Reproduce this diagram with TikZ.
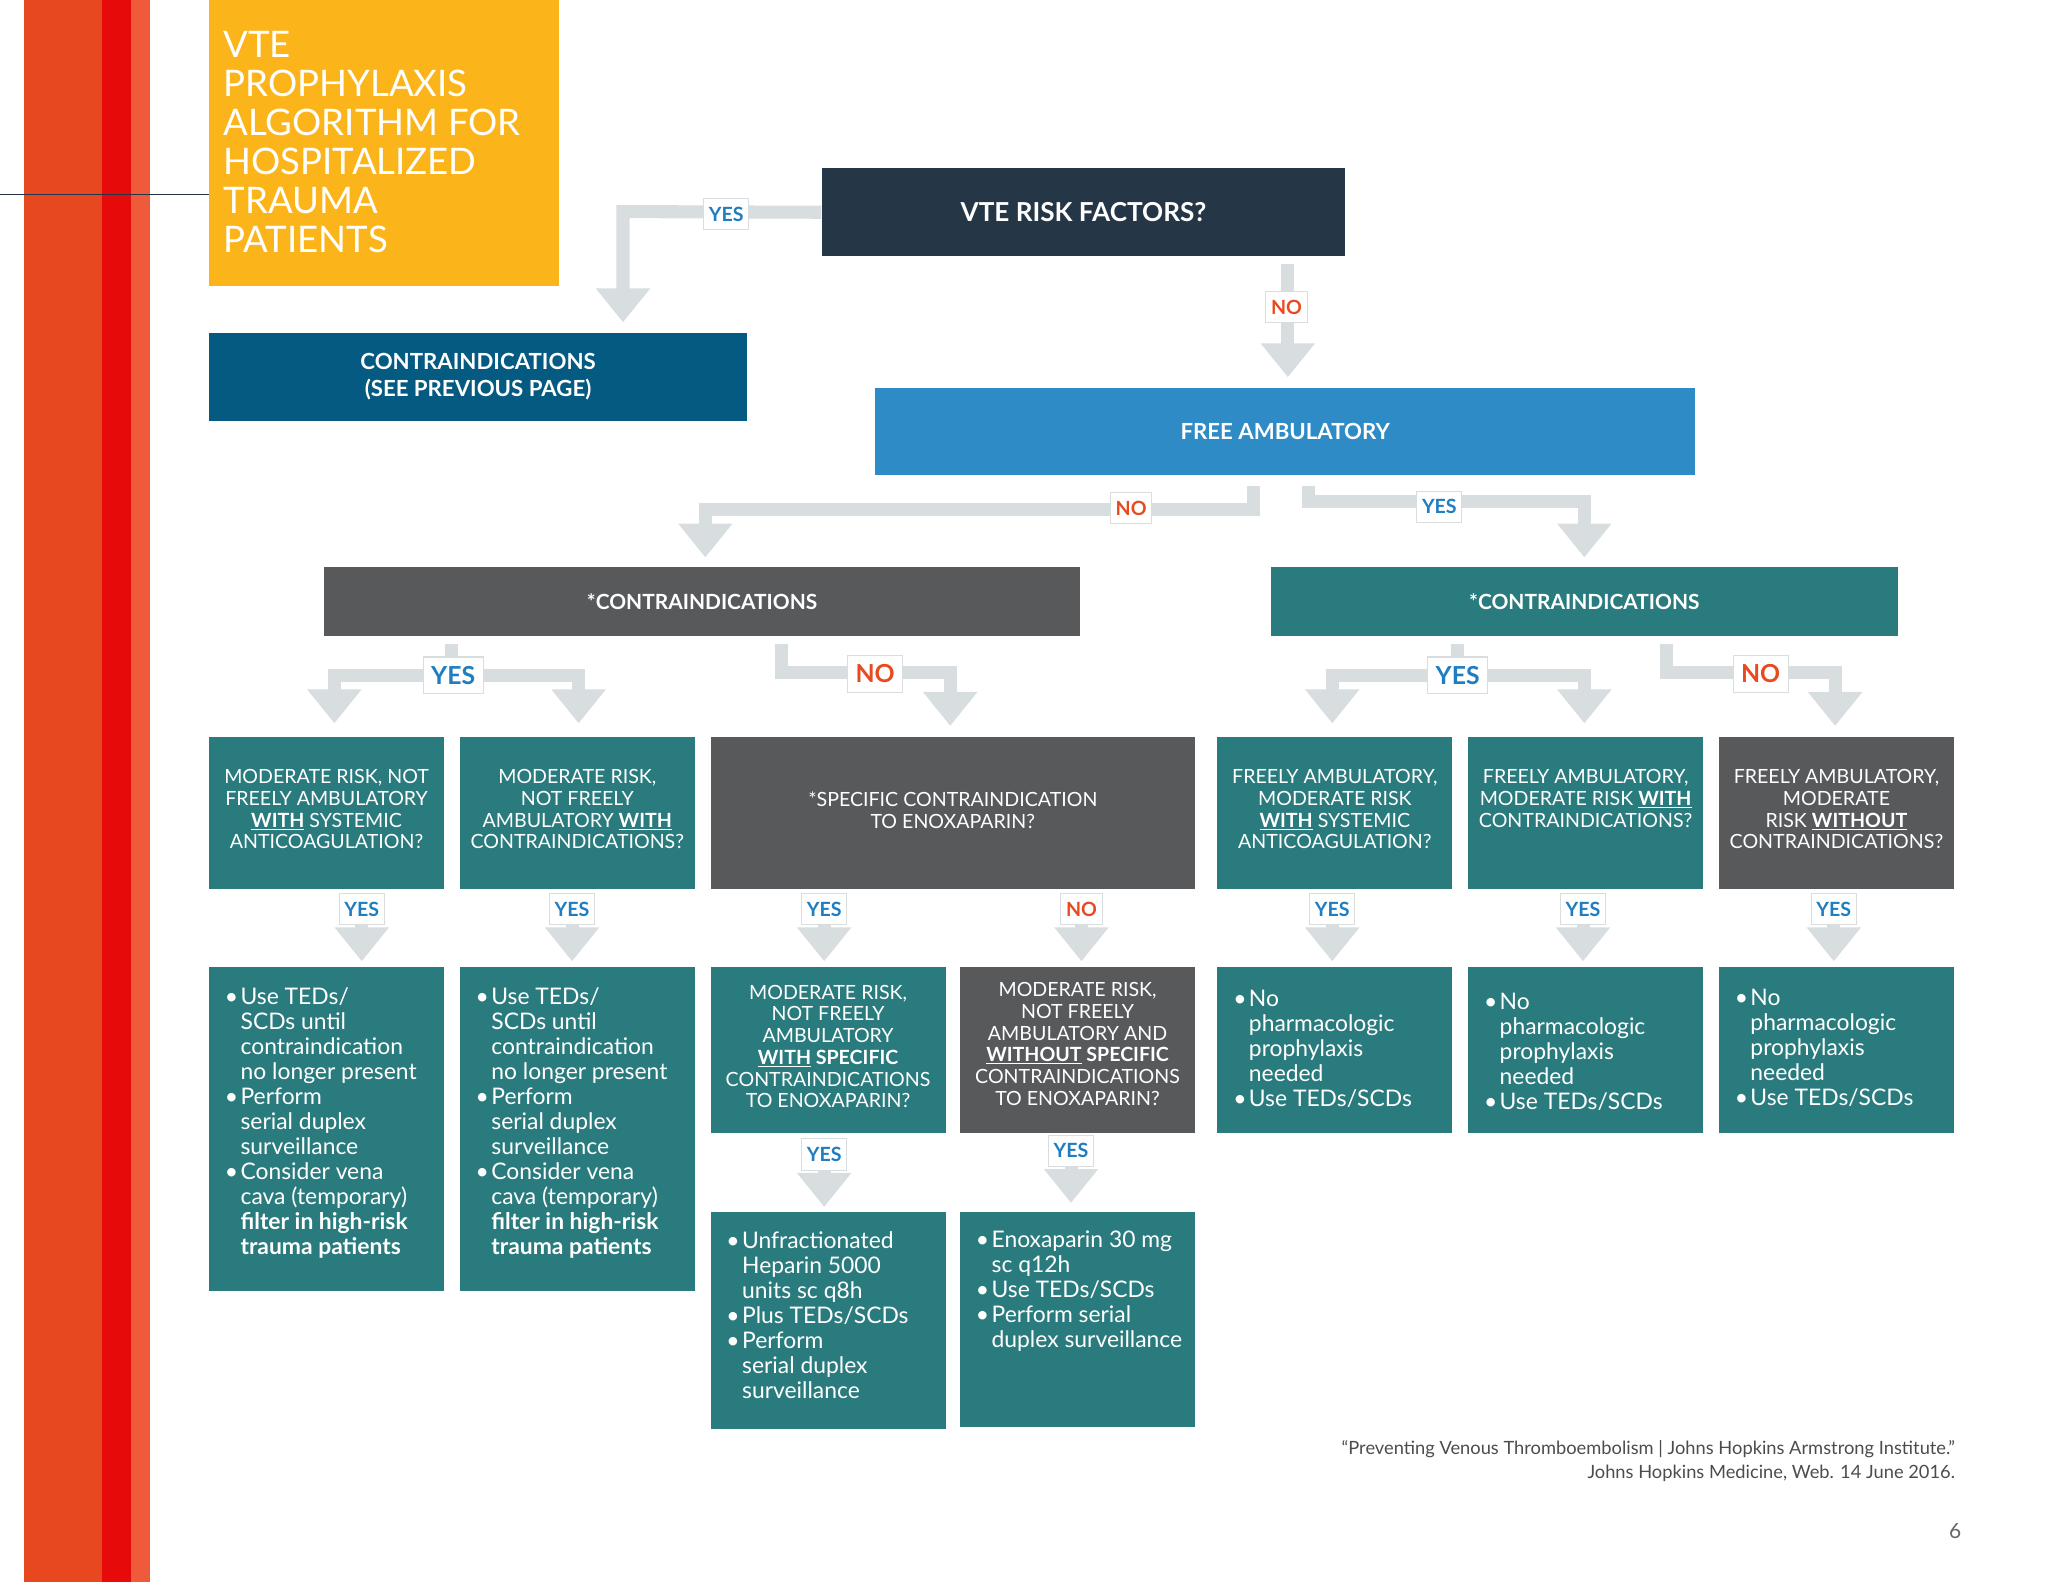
\documentclass[tikz,border=0pt]{standalone}
\usepackage{fontspec}
\setmainfont{Lato}
\usetikzlibrary{arrows.meta}
\definecolor{teal}{HTML}{2A7B7E}
\definecolor{dgray}{HTML}{58595B}
\definecolor{navy}{HTML}{253746}
\definecolor{dblue}{HTML}{055A82}
\definecolor{mblue}{HTML}{2E8BC6}
\definecolor{yel}{HTML}{FBB41A}
\definecolor{agray}{HTML}{D8DDDF}
\definecolor{yesc}{HTML}{1F7DC1}
\definecolor{noc}{HTML}{E84A1F}
\definecolor{s1}{HTML}{E8481F}
\definecolor{s2}{HTML}{E60A0A}
\definecolor{s3}{HTML}{EE5A3A}
\newcommand{\bi}[1]{\makebox[12pt][l]{\textbullet}\parbox[t]{150pt}{\raggedright #1\rule[-5pt]{0pt}{5pt}}}
\begin{document}
\begin{tikzpicture}[x=1pt,y=1pt,
  box/.style={rectangle,inner sep=0pt,text=white,align=center},
  qt/.style={text=white,align=center,inner sep=0pt,font=\fontsize{15}{16.6}\selectfont,anchor=north},
  bl/.style={text=white,align=left,inner sep=0pt,font=\fontsize{17.5}{19.2}\selectfont,anchor=north west},
  conn/.style={draw=agray,line width=10pt,-{Triangle[width=40pt,length=26pt]}},
  seg/.style={draw=agray,line width=10pt},
  lab/.style={fill=white,draw=agray,line width=0.8pt,inner xsep=4pt,inner ysep=3pt,font=\bfseries\fontsize{15}{15}\selectfont,minimum height=24pt},
  labL/.style={lab,font=\bfseries\fontsize{19}{19}\selectfont,minimum height=28pt,inner xsep=6pt}]
\useasboundingbox (0,0) rectangle (1568,-1211);
% stripes
\fill[s1] (18,0) rectangle (78,-1211);
\fill[s2] (78,0) rectangle (100,-1211);
\fill[s3] (100,0) rectangle (115,-1211);
\draw[navy,line width=0.8pt] (0,-149) -- (160,-149);
% title
\node[box,fill=yel,minimum width=268pt,minimum height=219pt,anchor=north west] (title) at (160,0) {};
\node[text=white,align=left,inner sep=0pt,anchor=north west,font=\fontsize{28}{29.8}\selectfont] (ttext) at (171,-24)
 {VTE\\PROPHYLAXIS\\ALGORITHM FOR\\HOSPITALIZED\\TRAUMA\\PATIENTS};
% main boxes
\node[box,fill=navy,minimum width=401pt,minimum height=67pt,font=\bfseries\fontsize{20}{22}\selectfont] (vte) at (829.5,-162.5) {VTE RISK FACTORS?};
\node[box,fill=dblue,minimum width=412pt,minimum height=67pt,font=\bfseries\fontsize{17}{21}\selectfont] (cprev) at (366,-288.5) {CONTRAINDICATIONS\\(SEE PREVIOUS PAGE)};
\node[box,fill=mblue,minimum width=628pt,minimum height=67pt,font=\bfseries\fontsize{17}{21}\selectfont] (fa) at (984,-330.5) {FREE AMBULATORY};
\node[box,fill=dgray,minimum width=579pt,minimum height=53pt,font=\bfseries\fontsize{16}{20}\selectfont] (c1) at (537.5,-460.5) {*CONTRAINDICATIONS};
\node[box,fill=teal,minimum width=480pt,minimum height=53pt,font=\bfseries\fontsize{16}{20}\selectfont] (c2) at (1213,-460.5) {*CONTRAINDICATIONS};
% row 3
\node[box,fill=teal,minimum width=180pt,minimum height=117pt] (b1) at (250,-622.5) {};
\node[box,fill=teal,minimum width=180pt,minimum height=117pt] (b2) at (442,-622.5) {};
\node[box,fill=dgray,minimum width=371pt,minimum height=117pt] (b3) at (729.5,-622.5) {};
\node[box,fill=teal,minimum width=180pt,minimum height=117pt] (b4) at (1022,-622.5) {};
\node[box,fill=teal,minimum width=180pt,minimum height=117pt] (b5) at (1214,-622.5) {};
\node[box,fill=dgray,minimum width=180pt,minimum height=117pt] (b6) at (1406,-622.5) {};
\node[qt] (t1) at (250,-589) {MODERATE RISK, NOT\\FREELY AMBULATORY\\\textbf{\underline{WITH}} SYSTEMIC\\ANTICOAGULATION?};
\node[qt] (t2) at (442,-589) {MODERATE RISK,\\NOT FREELY\\AMBULATORY \textbf{\underline{WITH}}\\CONTRAINDICATIONS?};
\node[qt] (t3) at (729.5,-606) {*SPECIFIC CONTRAINDICATION\\TO ENOXAPARIN?};
\node[qt] (t4) at (1022,-589) {FREELY AMBULATORY,\\MODERATE RISK\\\textbf{\underline{WITH}} SYSTEMIC\\ANTICOAGULATION?};
\node[qt] (t5) at (1214,-589) {FREELY AMBULATORY,\\MODERATE RISK \textbf{\underline{WITH}}\\CONTRAINDICATIONS?};
\node[qt] (t6) at (1406,-589) {FREELY AMBULATORY,\\MODERATE\\RISK \textbf{\underline{WITHOUT}}\\CONTRAINDICATIONS?};
% row 4
\node[box,fill=teal,minimum width=180pt,minimum height=248pt,anchor=north] (d1) at (250,-740) {};
\node[box,fill=teal,minimum width=180pt,minimum height=248pt,anchor=north] (d2) at (442,-740) {};
\node[box,fill=teal,minimum width=180pt,minimum height=127pt,anchor=north] (d3) at (634,-740) {};
\node[box,fill=dgray,minimum width=180pt,minimum height=127pt,anchor=north] (d4) at (825,-740) {};
\node[box,fill=teal,minimum width=180pt,minimum height=127pt,anchor=north] (d5) at (1022,-740) {};
\node[box,fill=teal,minimum width=180pt,minimum height=127pt,anchor=north] (d6) at (1214,-740) {};
\node[box,fill=teal,minimum width=180pt,minimum height=127pt,anchor=north] (d7) at (1406,-740) {};
\node[bl] (u1) at (172,-756) {\bi{Use TEDs/\\SCDs until\\contraindication\\no longer present}\\\bi{Perform\\serial duplex\\surveillance}\\\bi{Consider vena\\cava (temporary)\\\textbf{filter in high-risk}\\\textbf{trauma patients}}};
\node[bl] (u2) at (364,-756) {\bi{Use TEDs/\\SCDs until\\contraindication\\no longer present}\\\bi{Perform\\serial duplex\\surveillance}\\\bi{Consider vena\\cava (temporary)\\\textbf{filter in high-risk}\\\textbf{trauma patients}}};
\node[qt] (t7) at (634,-754) {MODERATE RISK,\\NOT FREELY\\AMBULATORY\\\textbf{\underline{WITH} SPECIFIC}\\CONTRAINDICATIONS\\TO ENOXAPARIN?};
\node[qt] (t8) at (825,-752) {MODERATE RISK,\\NOT FREELY\\AMBULATORY AND\\\textbf{\underline{WITHOUT} SPECIFIC}\\CONTRAINDICATIONS\\TO ENOXAPARIN?};
\node[bl] (u5) at (944,-758) {\bi{No\\pharmacologic\\prophylaxis\\needed}\\\bi{Use TEDs/SCDs}};
\node[bl] (u6) at (1136,-760) {\bi{No\\pharmacologic\\prophylaxis\\needed}\\\bi{Use TEDs/SCDs}};
\node[bl] (u7) at (1328,-757) {\bi{No\\pharmacologic\\prophylaxis\\needed}\\\bi{Use TEDs/SCDs}};
% row 5
\node[box,fill=teal,minimum width=180pt,minimum height=166pt,anchor=north] (e1) at (634,-928) {};
\node[box,fill=teal,minimum width=180pt,minimum height=164pt,anchor=north] (e2) at (825,-928) {};
\node[bl] (u8) at (556,-943) {\bi{Unfractionated\\Heparin 5000\\units sc q8h}\\\bi{Plus TEDs/SCDs}\\\bi{Perform\\serial duplex\\surveillance}};
\node[bl] (u9) at (747,-942) {\bi{Enoxaparin 30 mg\\sc q12h}\\\bi{Use TEDs/SCDs}\\\bi{Perform serial\\duplex surveillance}};
% connectors
\coordinate (k1) at (477,-162);
\draw[conn,shorten >=8pt] (vte.west) -- (k1) -- (k1 |- cprev.north);
\coordinate (k2) at (986,-200);
\draw[conn,shorten <=6pt,shorten >=8pt] (vte.south -| k2) -- (fa.north -| k2);
\coordinate (k3) at (960,-390);
\coordinate (k3b) at (540,-390);
\draw[conn,shorten <=8pt,shorten >=7pt] (fa.south -| k3) -- (k3) -- (k3b) -- (k3b |- c1.north);
\coordinate (k4) at (1002,-384);
\coordinate (k4b) at (1213,-384);
\draw[conn,shorten <=8pt,shorten >=7pt] (fa.south -| k4) -- (k4) -- (k4b) -- (k4b |- c2.north);
\coordinate (k5) at (346,-517);
\draw[seg,shorten <=6pt] (c1.south -| k5) -- (k5);
\draw[conn,shorten >=10pt] (k5) -| ([xshift=6pt]b1.north);
\draw[conn,shorten >=10pt] (k5) -| ([xshift=1pt]b2.north);
\coordinate (k6) at (598,-515);
\draw[conn,shorten <=6pt,shorten >=8pt] (c1.south -| k6) -- (k6) -| ([xshift=-2pt]b3.north);
\coordinate (k7) at (1116,-517);
\draw[seg,shorten <=6pt] (c2.south -| k7) -- (k7);
\draw[conn,shorten >=10pt] (k7) -| ([xshift=-2pt]b4.north);
\draw[conn,shorten >=10pt] (k7) -| ([xshift=-1pt]b5.north);
\coordinate (k8) at (1276,-515);
\draw[conn,shorten <=6pt,shorten >=8pt] (c2.south -| k8) -- (k8) -| ([xshift=-1pt]b6.north);
\foreach \n/\m/\x in {b1/d1/277,b2/d2/438,b3/d3/631,b3/d4/828,b4/d5/1020,b5/d6/1212,b6/d7/1404}{
  \coordinate (kx) at (\x,0);
  \draw[conn,shorten <=6pt,shorten >=4pt] (\n.south -| kx) -- (\m.north -| kx);
}
\coordinate (k9) at (631,0);
\draw[conn,shorten <=6pt,shorten >=4pt] (d3.south -| k9) -- (e1.north -| k9);
\coordinate (k10) at (820,0);
\draw[conn,shorten <=6pt,shorten >=7pt] (d4.south -| k10) -- (e2.north -| k10);
% labels
\node[lab,text=yesc] (l1) at (556,-164) {YES};
\node[lab,text=noc] (l2) at (985,-235) {NO};
\node[lab,text=noc] (l3) at (866,-389) {NO};
\node[lab,text=yesc] (l4) at (1102,-388) {YES};
\node[labL,text=yesc] (l5) at (347,-517) {YES};
\node[labL,text=noc] (l6) at (670,-516) {NO};
\node[labL,text=yesc] (l7) at (1116,-517) {YES};
\node[labL,text=noc] (l8) at (1348,-516) {NO};
\node[lab,text=yesc] (l9) at (277,-696) {YES};
\node[lab,text=yesc] (l10) at (438,-696) {YES};
\node[lab,text=yesc] (l11) at (631,-696) {YES};
\node[lab,text=noc] (l12) at (828,-696) {NO};
\node[lab,text=yesc] (l13) at (1020,-696) {YES};
\node[lab,text=yesc] (l14) at (1212,-696) {YES};
\node[lab,text=yesc] (l15) at (1404,-696) {YES};
\node[lab,text=yesc] (l16) at (631,-884) {YES};
\node[lab,text=yesc] (l17) at (820,-881) {YES};
% footer
\node[anchor=north east,align=right,inner sep=0pt,text=black!70,font=\fontsize{14}{18}\selectfont] (foot) at (1497,-1103) {“Preventing Venous Thromboembolism | Johns Hopkins Armstrong Institute.”\\Johns Hopkins Medicine, Web. 14 June 2016.};
\node[text=black!60,inner sep=0pt,font=\fontsize{16}{16}\selectfont] (pg) at (1497,-1172) {6};
\end{tikzpicture}
\end{document}
